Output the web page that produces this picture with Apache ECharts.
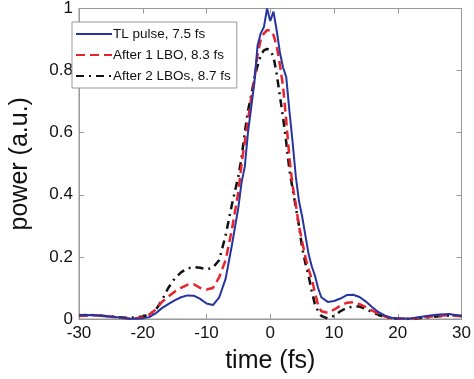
<!DOCTYPE html>
<html>
<head>
<meta charset="utf-8">
<script src="https://cdn.jsdelivr.net/npm/echarts@6/dist/echarts.min.js"></script>
<style>html,body{margin:0;padding:0;background:#fff}#c{width:474px;height:379px}</style>
</head>
<body>
<div id="c"></div>
<script>
var time = [-30,-28,-26,-24,-22,-20,-19,-18,-17,-16,-15,-14,-13,-12,-11,-10,-9,-8,-7,-6,-5,-4.5,-4,-3.5,-3,-2.5,-2,-1.5,-1,-0.5,0,0.5,1,1.5,2,2.5,3,3.5,4,4.5,5,5.5,6,6.5,7,7.5,8,9,10,11,12,13,14,15,16,17,18,19,20,22,24,26,28,30];
var powerTL = [0.012,0.013,0.01,0.006,0.001,0.002,0.006,0.018,0.035,0.048,0.06,0.07,0.076,0.075,0.065,0.05,0.045,0.07,0.13,0.24,0.36,0.44,0.49,0.6,0.68,0.76,0.88,0.92,0.94,1.0,0.96,0.99,0.93,0.86,0.81,0.78,0.67,0.57,0.46,0.38,0.33,0.27,0.21,0.17,0.14,0.1,0.07,0.055,0.058,0.066,0.077,0.078,0.071,0.056,0.038,0.022,0.011,0.004,0.002,0.002,0.008,0.014,0.016,0.01];
var power1LBO = [0.01,0.012,0.01,0.005,0.001,0.005,0.014,0.03,0.055,0.072,0.088,0.1,0.11,0.112,0.1,0.095,0.1,0.135,0.19,0.29,0.41,0.5,0.57,0.64,0.71,0.77,0.85,0.9,0.92,0.93,0.93,0.915,0.88,0.82,0.75,0.64,0.52,0.43,0.37,0.3,0.25,0.2,0.16,0.13,0.085,0.045,0.025,0.02,0.03,0.043,0.052,0.054,0.048,0.038,0.027,0.017,0.008,0.002,0.001,0.001,0.005,0.01,0.012,0.01];
var power2LBO = [0.012,0.013,0.01,0.006,0.003,0.008,0.015,0.028,0.06,0.1,0.13,0.15,0.163,0.167,0.165,0.16,0.165,0.19,0.27,0.37,0.46,0.52,0.6,0.67,0.72,0.775,0.815,0.85,0.865,0.87,0.865,0.845,0.79,0.72,0.65,0.57,0.48,0.42,0.36,0.3,0.23,0.18,0.14,0.09,0.048,0.025,0.01,0.002,0.01,0.025,0.036,0.04,0.04,0.032,0.022,0.013,0.006,0.002,0.001,0.0,0.004,0.008,0.011,0.01];
var seriesNames = ['TL pulse, 7.5 fs','After 1 LBO, 8.3 fs','After 2 LBOs, 8.7 fs'];
var xTicks = [-30,-20,-10,0,10,20,30];
var yTicks = [0,0.2,0.4,0.6,0.8,1];

function pairs(v){ return time.map(function(t,i){ return [t, v[i]]; }); }

var chart = echarts.init(document.getElementById('c'), null, {renderer:'canvas'});
var font = 'Liberation Sans, Arial, sans-serif';
var axisGray = '#999';
chart.setOption({
  animation: false,
  backgroundColor: '#fff',
  grid: {left: 59, top: 7, right: 8, bottom: 51, show: true, borderColor: axisGray, borderWidth: 1},
  legend: {
    data: seriesNames, orient: 'vertical', left: 72, top: 22,
    padding: [5, 6, 5, 3], itemGap: 7, itemWidth: 36, itemHeight: 14,
    borderColor: axisGray, borderWidth: 1, backgroundColor: '#fff',
    itemStyle: {opacity: 0},
    textStyle: {fontFamily: font, fontSize: 13.5, color: '#111', padding: [0,0,0,-4]}
  },
  xAxis: [{
    type: 'value', min: xTicks[0], max: xTicks[xTicks.length-1], interval: 10,
    name: 'time (fs)', nameLocation: 'middle', nameGap: 30,
    nameTextStyle: {fontFamily: font, fontSize: 25, color: '#111'},
    axisLine: {show: true, onZero: false, lineStyle: {color: axisGray}},
    axisTick: {inside: true, length: 5, lineStyle: {color: axisGray}},
    axisLabel: {fontFamily: font, fontSize: 17, color: '#111', margin: 6},
    splitLine: {show: false}
  },{
    type: 'value', position: 'top', min: -30, max: 30, interval: 10,
    axisLine: {show: true, onZero: false, lineStyle: {color: axisGray}},
    axisTick: {inside: true, length: 5, lineStyle: {color: axisGray}},
    axisLabel: {show: false}, splitLine: {show: false}
  }],
  yAxis: [{
    type: 'value', min: yTicks[0], max: yTicks[yTicks.length-1], interval: 0.2,
    name: 'power (a.u.)', nameLocation: 'middle', nameGap: 46,
    nameTextStyle: {fontFamily: font, fontSize: 25, color: '#111'},
    axisLine: {show: true, onZero: false, lineStyle: {color: axisGray}},
    axisTick: {inside: true, length: 5, lineStyle: {color: axisGray}},
    axisLabel: {fontFamily: font, fontSize: 17, color: '#111', margin: 6,
      formatter: function(v){ return String(Math.round(v*10)/10); }},
    splitLine: {show: false}
  },{
    type: 'value', position: 'right', min: 0, max: 1, interval: 0.2,
    axisLine: {show: true, onZero: false, lineStyle: {color: axisGray}},
    axisTick: {inside: true, length: 5, lineStyle: {color: axisGray}},
    axisLabel: {show: false}, splitLine: {show: false}
  }],
  series: [
    {name: seriesNames[2], type: 'line', data: pairs(power2LBO), symbol: 'none', z: 3,
     lineStyle: {color: '#111', width: 2.5, type: [8,5,2,5]}, itemStyle: {color: '#111'}},
    {name: seriesNames[1], type: 'line', data: pairs(power1LBO), symbol: 'none', z: 4,
     lineStyle: {color: '#e8232a', width: 2.5, type: [9,5]}, itemStyle: {color: '#e8232a'}},
    {name: seriesNames[0], type: 'line', data: pairs(powerTL), symbol: 'none', z: 5,
     lineStyle: {color: '#2634a0', width: 2}, itemStyle: {color: '#2634a0'}}
  ]
});
</script>
</body>
</html>
